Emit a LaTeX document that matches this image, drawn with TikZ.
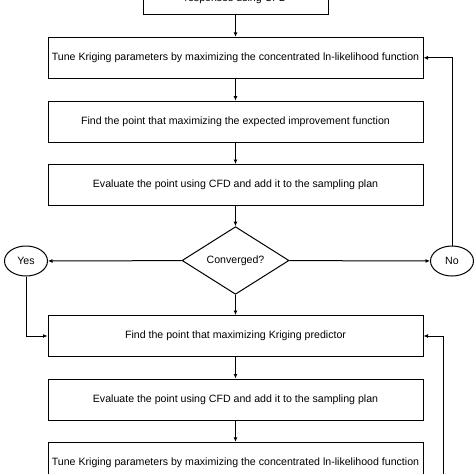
\documentclass[tikz,border=0pt]{standalone}
\usepackage{fontspec}
\setmainfont{Liberation Sans}
\usetikzlibrary{shapes.geometric,arrows.meta}
\begin{document}
\begin{tikzpicture}[x=1pt,y=-1pt,
		line width=1pt,
		font=\fontsize{10.6}{12.7}\selectfont,
		box/.style={draw,rectangle,minimum width=375pt,minimum height=41pt,inner sep=0pt},
		ask/.style={draw,diamond,minimum width=107pt,minimum height=64pt,inner sep=0pt},
		answer/.style={draw,ellipse,minimum width=43pt,minimum height=30pt,inner sep=0pt},
		go/.style={-{Latex[length=4.5pt,width=4pt]}}]
			\useasboundingbox (0,0) rectangle (474,474);

			\node[box,minimum width=185pt,minimum height=32pt] (init) at (235.5,-1.5) {responses using CFD};
			\node[box] (tune) at (235.5,57.8) {Tune Kriging parameters by maximizing the concentrated ln-likelihood function};
			\node[box] (ei) at (235.5,121.7) {Find the point that maximizing the expected improvement function};
			\node[box] (evalA) at (235.5,185) {Evaluate the point using CFD and add it to the sampling plan};
			\node[ask] (conv) at (235.5,260.5) {Converged?};
			\node[answer] (yes) at (26,261) {Yes};
			\node[answer] (no) at (452,261) {No};
			\node[box] (pred) at (235.5,336) {Find the point that maximizing Kriging predictor};
			\node[box] (evalB) at (235.5,399.5) {Evaluate the point using CFD and add it to the sampling plan};
			\node[box] (tuneB) at (235.5,462.8) {Tune Kriging parameters by maximizing the concentrated ln-likelihood function};
			\coordinate (back) at (443.5,490);

			\draw[go] (init) -- (tune);
			\draw[go] (tune) -- (ei);
			\draw[go] (ei) -- (evalA);
			\draw[go] (evalA) -- (conv);
			\draw[go] (conv) -- (pred);
			\draw[go] (pred) -- (evalB);
			\draw[go] (evalB) -- (tuneB);

			\draw[go] (conv) -- (yes);
			\draw[go] (conv) -- (no);
			\draw[go] (no.north) |- (tune.east);
			\draw[go] (yes.south) |- (pred.west);
			\draw[go] (back) |- (pred.east);
		\end{tikzpicture}
\end{document}
